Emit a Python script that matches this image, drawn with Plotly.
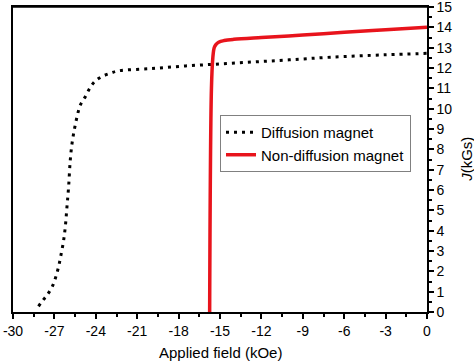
import plotly.graph_objects as go

# Diffusion magnet (dotted black)
diff_x = [-28.15, -27.83, -27.54, -27.17, -26.93, -26.7, -26.5, -26.33, -26.21, -26.09,
          -25.97, -25.85, -25.72, -25.56, -25.36, -25.12, -24.76, -24.4, -24.04, -23.55,
          -22.95, -22.35, -20.0, -17.5, -15.0, -12.5, -10.0, -7.0, -3.0, 0.0]
diff_y = [0.28, 0.58, 0.82, 1.23, 1.66, 2.22, 2.89, 3.53, 4.19, 5.17,
          6.16, 7.47, 8.3, 8.95, 9.6, 10.18, 10.59, 11.05, 11.36, 11.58,
          11.74, 11.86, 11.97, 12.1, 12.2, 12.3, 12.4, 12.53, 12.65, 12.72]

# Non-diffusion magnet (solid red)
nond_x = [-15.75, -15.62, -15.52, -15.42, -15.3, -15.1, -14.7, -14.0, -12.0, -9.0, -6.0, -3.0, 0.0]
nond_y = [0.0, 11.0, 12.5, 13.0, 13.15, 13.27, 13.35, 13.41, 13.5, 13.62, 13.76, 13.88, 14.0]

x_ticks = [-30, -27, -24, -21, -18, -15, -12, -9, -6, -3, 0]
y_ticks = list(range(0, 16))

x_title = "Applied field (kOe)"
y_title = "<i>J</i>(kGs)"

fig = go.Figure()
fig.add_trace(go.Scatter(x=diff_x, y=diff_y, mode="lines", name="Diffusion magnet",
                         line=dict(color="black", width=3, dash="3px,5px", shape="spline")))
fig.add_trace(go.Scatter(x=nond_x, y=nond_y, mode="lines", name="Non-diffusion magnet",
                         line=dict(color="#e8141c", width=3.5, shape="spline")))

font_family = "Liberation Sans, Arial, sans-serif"
fig.update_layout(
    width=474, height=361,
    margin=dict(l=13, r=47, t=7, b=49),
    paper_bgcolor="white", plot_bgcolor="white",
    font=dict(family=font_family, size=14, color="black"),
    showlegend=True,
    legend=dict(x=0.5, y=0.646, xanchor="left", yanchor="top",
                bordercolor="#808080", borderwidth=1, bgcolor="white",
                font=dict(size=15), tracegroupgap=0, itemwidth=30),
    xaxis=dict(range=[-30, 0], tickvals=x_ticks, ticktext=[str(v) for v in x_ticks],
               automargin=False, ticklabeloverflow="allow",
               showgrid=False, zeroline=False, showline=True, linecolor="black", linewidth=1.5,
               mirror=True, ticks="outside", ticklen=5, tickwidth=1.5, tickcolor="black",
               minor=dict(dtick=1.5, ticks="outside", ticklen=3, tickwidth=1.5, tickcolor="black")),
    yaxis=dict(range=[0, 15], side="right", tickvals=y_ticks, ticktext=[str(v) for v in y_ticks],
               automargin=False, ticklabeloverflow="allow",
               showgrid=False, zeroline=False, showline=True, linecolor="black", linewidth=1.5,
               mirror=True, ticks="outside", ticklen=5, tickwidth=1.5, tickcolor="black",
               minor=dict(dtick=0.5, ticks="outside", ticklen=3, tickwidth=1.5, tickcolor="black")),
    shapes=[dict(type="line", xref="paper", yref="paper", x0=0, x1=1, y0=1, y1=1,
                 line=dict(color="black", width=1.5))],
    annotations=[
        dict(text=x_title, xref="paper", yref="paper", x=0.5, y=-0.132,
             xanchor="center", yanchor="middle", showarrow=False, font=dict(size=15)),
        dict(text=y_title, xref="paper", yref="paper", x=1.095, y=0.5,
             xanchor="center", yanchor="middle", showarrow=False, textangle=-90,
             font=dict(size=15)),
    ],
)

fig.write_html("out.html", config={"displayModeBar": False},
               post_script="document.body.style.margin='0';document.body.style.overflow='hidden';")
